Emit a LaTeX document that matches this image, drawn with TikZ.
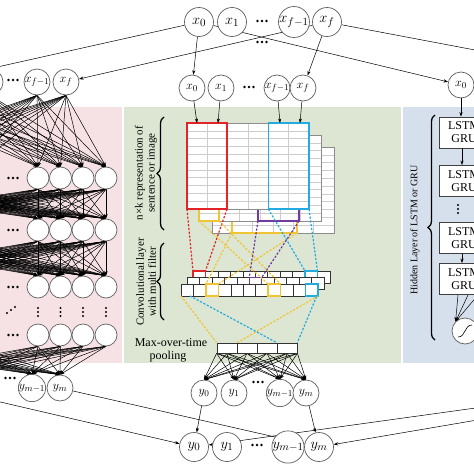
\documentclass[tikz,border=0pt]{standalone}
\usepackage{fontspec}
\setmainfont{Liberation Serif}
\usetikzlibrary{arrows.meta,decorations.pathreplacing,calc}
\definecolor{pinkbg}{RGB}{246,226,229}
\definecolor{greenbg}{RGB}{220,230,210}
\definecolor{bluebg}{RGB}{214,224,237}
\definecolor{cred}{RGB}{226,35,40}
\definecolor{ccyan}{RGB}{35,170,225}
\definecolor{cyel}{RGB}{240,196,50}
\definecolor{cpur}{RGB}{112,58,160}
\definecolor{circ}{RGB}{95,95,95}
\definecolor{gridc}{RGB}{205,205,205}
\definecolor{sheetc}{RGB}{140,140,140}
\pgfdeclarelayer{back}
\pgfdeclarelayer{edges}
\pgfsetlayers{back,edges,main}
\newcommand\threedots[2]{\foreach \dd in {-4.5,0,4.5}{\fill (#1+\dd,#2) circle (1.4);}}
\newcommand\myvdots[2]{\foreach \dd in {-4,0,4}{\fill (#1,#2+\dd) circle (1.1);}}
\newcommand\sheetat[2]{%
  \fill[white] (187+#1,123+#2) rectangle (309+#1,209+#2);
  \foreach \k in {1,...,5}{\draw[gridc,line width=0.5pt] (187+#1+\k*20.333,123+#2) -- ++(0,86);}
  \foreach \k in {1,...,10}{\draw[gridc,line width=0.5pt] (187+#1,123+#2+\k*7.818) -- ++(122,0);}
  \draw[sheetc,line width=0.8pt] (187+#1,123+#2) rectangle (309+#1,209+#2);}
\newcommand\stripat[2]{%
  \fill[white] (#1,#2) rectangle ++(137,12);
  \foreach \k in {1,...,10}{\draw[black!80,line width=0.6pt] (#1+\k*12.4545,#2) -- ++(0,12);}
  \draw[black!80,line width=0.8pt] (#1,#2) rectangle ++(137,12);}
\tikzset{
  bign/.style={circle,draw=circ,fill=white,line width=0.7pt,minimum size=29pt,inner sep=0pt,font=\fontsize{15}{15}\selectfont},
  midn/.style={circle,draw=circ,fill=white,line width=0.7pt,minimum size=26pt,inner sep=0pt,font=\fontsize{13}{13}\selectfont},
  mlpn/.style={circle,draw=circ,fill=white,line width=0.7pt,minimum size=22pt,inner sep=0pt},
  arr/.style={-{Stealth[length=4.5pt,width=3.2pt]}},
  conn/.style={line width=0.5pt,draw=black},
  dsh/.style={dash pattern=on 2.2pt off 1.6pt,line width=1.2pt},
  lstm/.style={draw=black!75,fill=white,line width=0.8pt,minimum width=50pt,minimum height=31pt,inner sep=0pt,align=center,font=\fontsize{12}{13}\selectfont},
  lbl/.style={font=\fontsize{11}{12}\selectfont,align=center},
  brc/.style={decorate,decoration={brace,amplitude=7pt},line width=1.3pt},
  poolc/.style={draw=black!80,fill=white,line width=0.8pt,minimum width=20pt,minimum height=10pt,inner sep=0pt},
  hl/.style={line width=1.4pt},
}
\begin{document}
\begin{tikzpicture}[x=1pt,y=-1pt]
\useasboundingbox (0,0) rectangle (474,474);
\clip (0,0) rectangle (474,474);
% panels
\begin{pgfonlayer}{back}
\fill[pinkbg] (-5,107) rectangle (122,363);
\fill[greenbg] (124,107) rectangle (401,363);
\fill[bluebg] (403,107) rectangle (480,363);
\end{pgfonlayer}

% ---------- top row ----------
\node[bign] (tx0) at (199,22) {$x_0$};
\node[bign] (tx1) at (232,22) {$x_1$};
\node[bign] (txf1) at (294,22) {$x_{f-1}$};
\node[bign] (txf) at (327,22) {$x_f$};
\threedots{262}{21}
\threedots{262}{42}

% ---------- left panel (MLP) ----------
\node[midn] (lx0) at (-70,82) {};
\node[midn] (lxa) at (-130,82) {};
\node[midn] (lxb) at (-100,82) {};
\node[midn] (lxc) at (-40,82) {};
\node[midn] (lx1) at (-10,82) {};
\node[midn] (lxf1) at (37,82) {$x_{f-1}$};
\node[midn] (lxf) at (66,82) {$x_f$};
\threedots{13}{80}
\foreach \r/\yy in {1/178,2/230,3/287,4/335}{
  \foreach \c/\xx in {1/-163,2/-140,3/-117,4/-94,5/-71,6/-48,7/-25,8/38,9/60.5,10/83,11/106}{
    \node[mlpn] (m-\r-\c) at (\xx,\yy) {};
  }
  \threedots{13}{\yy}
}
\foreach \xx in {38,60.5,83,106}{\myvdots{\xx}{312}}
\fill (7,313) circle (1.1); \fill (11,310) circle (1.1); \fill (15,307) circle (1.1);
\node[midn] (ly0) at (-60,388) {};
\node[midn] (lya) at (-120,388) {};
\node[midn] (lyb) at (-90,388) {};
\node[midn] (ly1) at (-25,388) {};
\node[midn] (lym1) at (32,388) {$y_{m-1}$};
\node[midn] (lym) at (60,388) {$y_m$};
\threedots{10}{378}

\begin{pgfonlayer}{edges}
\foreach \s in {lxa,lxb,lx0,lxc,lx1,lxf1,lxf}{
  \foreach \t in {1,...,11}{\draw[conn,arr] (\s.south) -- (m-1-\t.north);}}
\foreach \r [evaluate=\r as \rn using int(\r+1)] in {1,2}{
  \foreach \s in {1,...,11}{\foreach \t in {1,...,11}{
    \draw[conn,arr] (m-\r-\s.south) -- (m-\rn-\t.north);}}}
\foreach \s in {1,...,11}{\foreach \t in {lya,lyb,ly0,ly1,lym1,lym}{
    \draw[conn,arr] (m-4-\s.south) -- (\t.north);}}
\end{pgfonlayer}

% ---------- middle panel (CNN) ----------
\node[midn] (mx0) at (192,88) {$x_0$};
\node[midn] (mx1) at (221,88) {$x_1$};
\node[midn] (mxf1) at (277,88) {$x_{f-1}$};
\node[midn] (mxf) at (303,88) {$x_f$};
\threedots{249}{87}

% stacked sheets with filters
\sheetat{25}{24}
\draw[cyel,hl] (232,147) rectangle (297,233);
\sheetat{12}{12}
\draw[cyel,hl] (199,135) rectangle (219,221);
\draw[cpur,hl] (258,135) rectangle (299,221);
\sheetat{0}{0}
\draw[cred,hl] (187,123) rectangle (227,209);
\draw[ccyan,hl] (268.3,123) rectangle (309,209);
\coordinate (in0) at (197,123);
\coordinate (in1) at (218,123);
\coordinate (inf1) at (280,123);
\coordinate (inf) at (300,123);
\draw[conn,arr] (mx0) -- (in0);
\draw[conn,arr] (mx1) -- (in1);
\draw[conn,arr] (mxf1) -- (inf1);
\draw[conn,arr] (mxf) -- (inf);

% feature maps
\stripat{193}{271}
\draw[cred,hl] (193,271) rectangle ++(12.45,12);
\draw[ccyan,hl] (305.05,271) rectangle ++(12.45,12);
\stripat{187}{277.5}
\draw[cpur,hl] (249.25,277.5) rectangle ++(12.45,12);
\stripat{181}{284}
\draw[cyel,hl] (205.9,284) rectangle ++(12.45,12);
\draw[cyel,hl] (268.15,284) rectangle ++(12.45,12);
\draw[ccyan,hl] (305.5,284) rectangle ++(12.45,12);

% pooling
\node[poolc] (p1) at (227,348) {};
\node[poolc] (p2) at (247,348) {};
\node[poolc] (p3) at (267,348) {};
\node[poolc] (p4) at (287,348) {};

% dashed mappings
\draw[cred,dsh] (187,209) -- (193,271);
\draw[cred,dsh] (227,209) -- (205.45,271);
\draw[cyel,dsh] (199,221) -- (268.15,284);
\draw[cyel,dsh] (219,221) -- (280.6,284);
\draw[cyel,dsh] (232,233) -- (205.9,284);
\draw[cyel,dsh] (297,233) -- (218.35,284);
\draw[cpur,dsh] (258,221) -- (249.25,277.5);
\draw[cpur,dsh] (299,221) -- (261.7,277.5);
\draw[ccyan,dsh] (268.3,209) -- (305.05,271);
\draw[ccyan,dsh] (309,209) -- (317.5,271);
\draw[cyel,dsh] (181,296) -- (p1.north west);
\draw[cyel,dsh] (318,296) -- (p1.north east);
\draw[ccyan,dsh] (190,296) -- (p4.north west);
\draw[ccyan,dsh] (318,293) -- (p4.north east);

\node[midn] (my0) at (204,393) {$y_0$};
\node[midn] (my1) at (234,393) {$y_1$};
\node[midn] (mym1) at (280,393) {$y_{m-1}$};
\node[midn] (mym) at (306,393) {$y_m$};
\threedots{258}{382}
\begin{pgfonlayer}{edges}
\foreach \s in {p1.south west,p1.south,p2.south,p3.south,p4.south,p4.south east}{
  \foreach \t in {my0,my1,mym1,mym}{\draw[conn,arr] (\s) -- (\t.north);}}
\end{pgfonlayer}

% braces and labels
\draw[brc] (164,230) -- (164,117);
\draw[brc] (164,320) -- (164,243);
\node[lbl,rotate=90] (lab1) at (146,173) {n×k representation of\\sentence or image};
\node[lbl,rotate=90] (lab2) at (146,282) {Convolutional layer\\with multi filter};
\node[font=\fontsize{12}{12}\selectfont] (lab3) at (171,343) {Max-over-time};
\node[font=\fontsize{12}{12}\selectfont] (lab4) at (168,357) {pooling};

% ---------- right panel (LSTM) ----------
\node[midn] (rx0) at (461,85) {$x_0$};
\node[lstm] (b1) at (464,132.5) {LSTM\\GRU};
\node[lstm] (b2) at (464,181) {LSTM\\GRU};
\myvdots{458}{209}
\node[lstm] (b3) at (464,238) {LSTM\\GRU};
\node[lstm] (b4) at (464,279) {LSTM\\GRU};
\node[circle,draw=circ,fill=white,line width=0.7pt,minimum size=26pt,inner sep=0pt] (sg) at (465,331) {};
\draw[line width=0.6pt] ($(sg)+(-7,6)$) .. controls ($(sg)+(1,6)$) and ($(sg)+(-1,-6)$) .. ($(sg)+(7,-6)$);
\draw[conn,arr] (rx0) -- (rx0 |- b1.north);
\draw[conn,arr] (b1.south -| 462,0) -- (b2.north -| 462,0);
\draw[conn,arr] (b3.south -| 462,0) -- (b4.north -| 462,0);
\coordinate (bo1) at (458,295);
\coordinate (bo2) at (468,295);
\coordinate (bo3) at (478,295);
\begin{pgfonlayer}{edges}
\draw[conn,arr] (bo1) -- (sg.north west);
\draw[conn,arr] (bo2) -- (sg.north west);
\draw[conn,arr] (bo3) -- (sg.north west);
\coordinate (so1) at (500,350);
\coordinate (so2) at (500,362);
\draw[conn] (sg) -- (so1);
\draw[conn] (sg) -- (so2);
\end{pgfonlayer}
\draw[brc] (435,340) -- (435,115);
\node[font=\fontsize{10}{10}\selectfont,rotate=90] (lab5) at (415,230) {Hidden Layer of LSTM or GRU};

% ---------- bottom row ----------
\node[bign] (by0) at (194,447) {$y_0$};
\node[bign] (by1) at (227,447) {$y_1$};
\node[bign] (bym1) at (288,447) {$y_{m-1}$};
\node[bign] (bym) at (319,447) {$y_m$};
\threedots{257}{445}
\node[midn] (ry0) at (620,388) {};
\node[midn] (rym) at (665,388) {};
\node[midn] (rxf) at (660,85) {};

% ---------- long connectors ----------
\begin{pgfonlayer}{edges}
\draw[conn,arr] (tx0) -- (lx0);
\draw[conn,arr] (tx0) -- (mx0);
\draw[conn,arr] (tx0) -- (rx0);
\draw[conn,arr] (txf) -- (lxf);
\draw[conn,arr] (txf) -- (mxf);
\draw[conn,arr] (txf) -- (rxf);
\draw[conn,arr] (ly0) -- (by0);
\draw[conn,arr] (my0) -- (by0);
\draw[conn,arr] (ry0) -- (by0);
\draw[conn,arr] (lym) -- (bym);
\draw[conn,arr] (mym) -- (bym);
\draw[conn,arr] (rym) -- (bym);
\end{pgfonlayer}
\end{tikzpicture}
\end{document}
